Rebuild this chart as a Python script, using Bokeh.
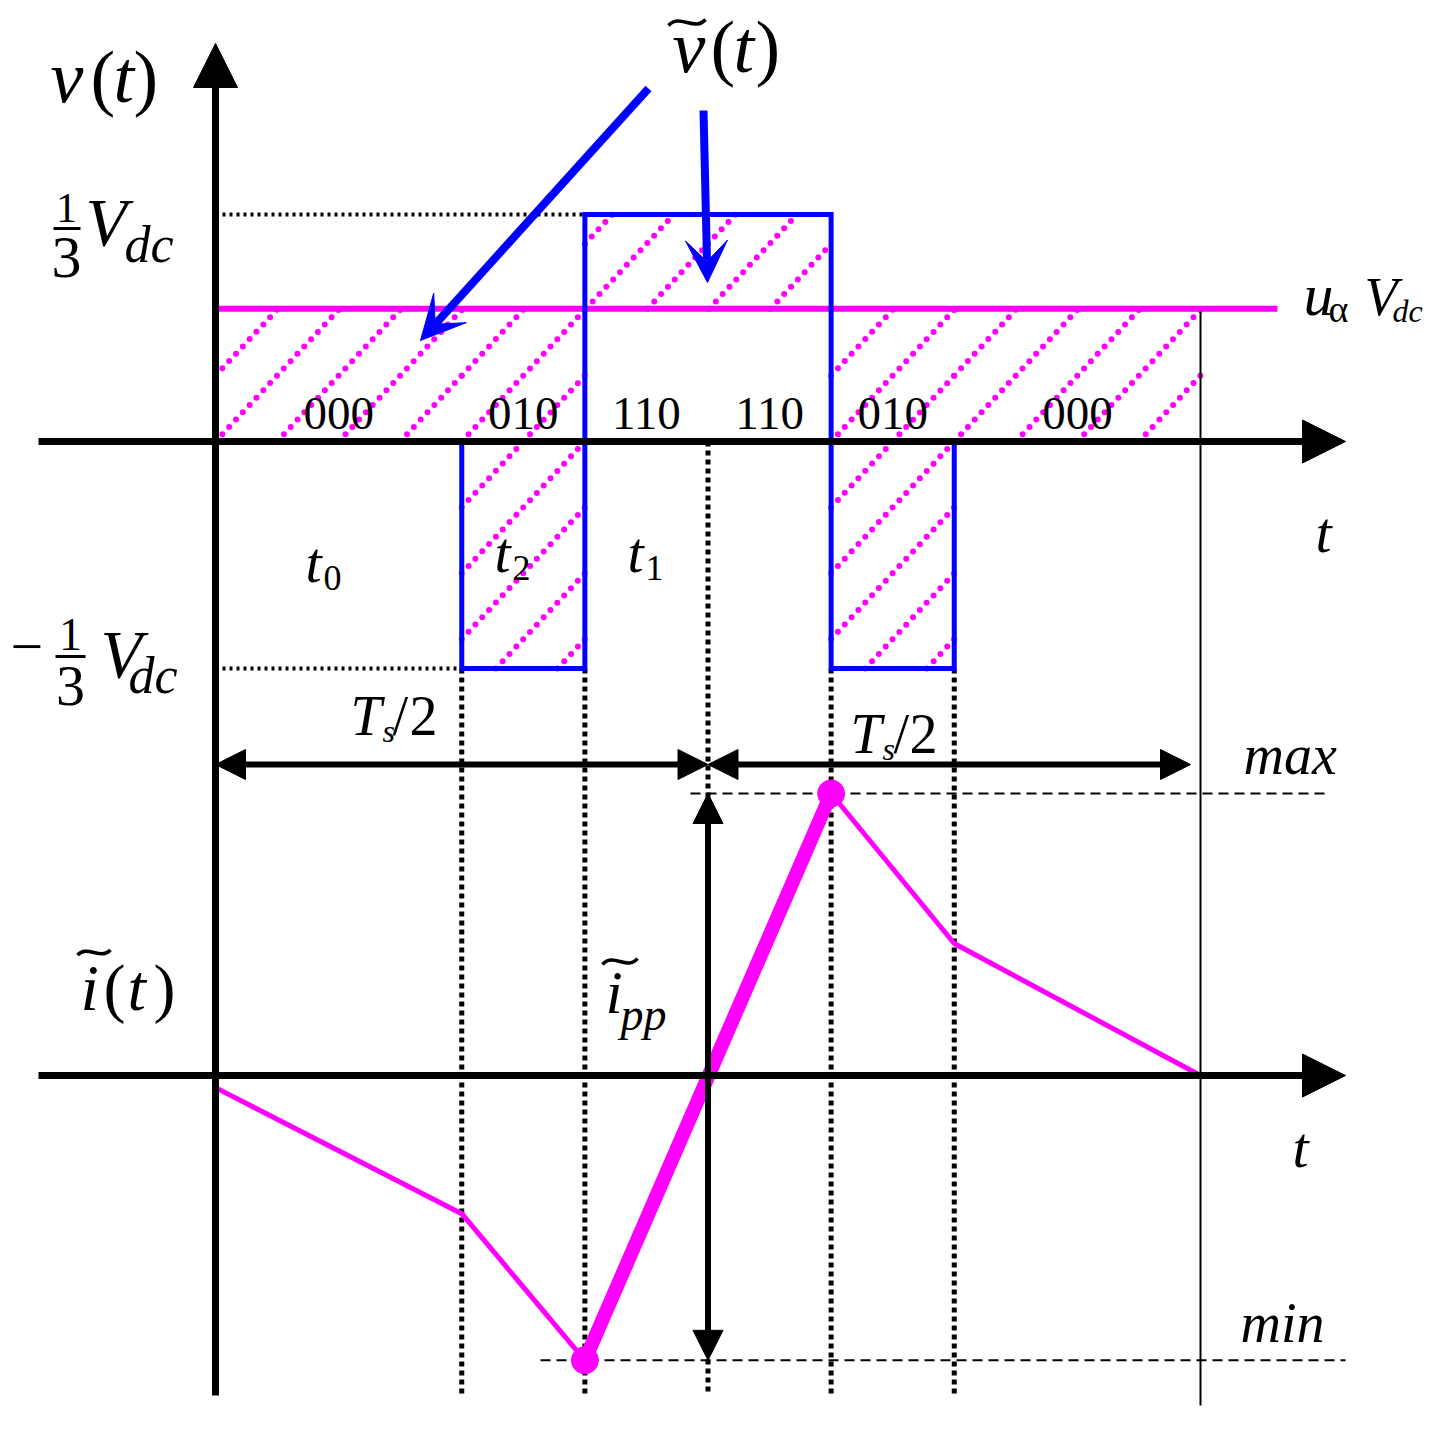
import numpy as np
from bokeh.plotting import figure
from bokeh.models import Range1d, Label, Arrow, NormalHead, VeeHead
from bokeh.core.properties import value
from bokeh.embed import file_html
from bokeh.resources import INLINE

# ---------------- data ----------------
t_switch = [0.0, 0.25, 0.375, 0.5, 0.625, 0.75, 1.0]      # switching instants, units of Ts
vectors = ["000", "010", "110", "110", "010", "000"]       # active switching vector per interval
v_level = [0.0, -1/3, 1/3, 1/3, -1/3, 0.0]                 # v(t) / Vdc per interval
u_alpha = 0.195                                            # reference u_alpha (per Vdc)
t_current = [0.0, 0.25, 0.375, 0.625, 0.75, 1.0]           # ripple-current corner instants
i_current = [-0.043, -0.49, -1.01, 1.0, 0.468, 0.0]        # ripple current (normalised)
i_max, i_min = 1.0, -1.01

# ---------------- layout ----------------
W, H = 1427, 1413
PX_T0, PX_PER_TS = 215, 985
PY_V0, PX_PER_V = 441, 681
PY_I0, PX_PER_I = 1075, 282
FONT = "Liberation Serif"
BLUE, MAG = "#0000FF", "#FF00FF"
LAB_SHIFT = 0.35     # baseline correction (fraction of font size)
TXT_SHIFT = 0.30


def X(px):
    return (px - PX_T0) / PX_PER_TS


def YV(py):
    return (PY_V0 - py) / PX_PER_V


def YI(py):
    return (PY_I0 - py) / PX_PER_I


p = figure(width=W, height=H, output_backend="svg", toolbar_location=None,
           x_range=Range1d(X(0), X(W)), y_range=Range1d(YV(H), YV(0)),
           x_axis_type=None, y_axis_type=None, min_border=0)
p.extra_y_ranges = {"i": Range1d(YI(H), YI(0))}
p.outline_line_color = None
p.background_fill_color = "white"
p.border_fill_color = "white"


def lab(text, px, py, size, italic=True, align="left"):
    base = py - LAB_SHIFT * size
    p.add_layout(Label(x=px, y=H - base, x_units="screen", y_units="screen",
                       text=text, text_font=FONT, text_font_size=f"{size}px",
                       text_font_style="italic" if italic else "normal",
                       text_align=align, text_baseline="alphabetic", text_color="black"))


def tilde(x0, x1, ymid, amp):
    """Wide accent tilde drawn as a cubic Bezier (layout pixels)."""
    w = x1 - x0
    p.bezier(x0=[X(x0)], y0=[YV(ymid + amp)], x1=[X(x1)], y1=[YV(ymid - amp)],
             cx0=[X(x0 + 0.3 * w)], cy0=[YV(ymid - 3.2 * amp)],
             cx1=[X(x0 + 0.7 * w)], cy1=[YV(ymid + 3.2 * amp)],
             line_color="black", line_width=3.5)


# ---------------- hatch (dotted magenta diagonals between u_alpha and v(t)) ----------------
kx = W / (p.x_range.end - p.x_range.start)
ky = H / (p.y_range.end - p.y_range.start)
slope = 1.07 * kx / ky          # data slope of the hatch lines
gap = 1 / 16                    # spacing of hatch lines along v = 0
hx0, hy0, hx1, hy1 = [], [], [], []
for k in range(len(v_level)):
    ta, tb = t_switch[k], t_switch[k + 1]
    va, vb = min(v_level[k], u_alpha), max(v_level[k], u_alpha)
    for j in range(-40, 60):
        tk = j * gap
        lo = max(ta, tk + va / slope)
        hi = min(tb, tk + vb / slope)
        if hi > lo:
            hx0.append(lo); hy0.append(slope * (lo - tk))
            hx1.append(hi); hy1.append(slope * (hi - tk))
p.segment(hx0, hy0, hx1, hy1, line_color=MAG, line_width=6, line_dash="0 10", line_cap="round")

# ---------------- black dotted guides ----------------
p.line([X(222), t_switch[2]], [1/3, 1/3], line_color="black", line_width=4, line_dash="3 4")
p.line([X(222), t_switch[1]], [-1/3, -1/3], line_color="black", line_width=4, line_dash="3 4")
for k in range(1, 6):
    top = 0.0 if k == 3 else -1/3
    p.line([t_switch[k], t_switch[k]], [top, YV(1395)], line_color="black", line_width=5,
           line_dash="5 4")
p.line([t_switch[-1], t_switch[-1]], [u_alpha, YV(1405)], line_color="black", line_width=2)

# ---------------- axes ----------------
p.add_layout(Arrow(end=NormalHead(size=44, fill_color="black", line_color="black"),
                   x_start=0, y_start=YV(1395), x_end=0, y_end=YV(43),
                   line_color="black", line_width=7))
p.add_layout(Arrow(end=NormalHead(size=43, fill_color="black", line_color="black"),
                   x_start=X(38), y_start=0, x_end=X(1345), y_end=0,
                   line_color="black", line_width=7))
p.add_layout(Arrow(end=NormalHead(size=43, fill_color="black", line_color="black"),
                   x_start=X(38), y_start=0, x_end=X(1345), y_end=0, y_range_name="i",
                   line_color="black", line_width=7))

# ---------------- u_alpha reference ----------------
p.line([0, X(1277)], [u_alpha, u_alpha], line_color=MAG, line_width=6)

# ---------------- v(t) waveform ----------------
wx, wy = [], []
for k in range(len(v_level)):
    wx += [t_switch[k], t_switch[k + 1]]
    wy += [v_level[k], v_level[k]]
for k in range(len(v_level)):
    if v_level[k] > 0:
        p.line([t_switch[k], t_switch[k + 1]], [0, 0], line_color=BLUE, line_width=5)
p.line(wx, wy, line_color=BLUE, line_width=5, line_join="miter")

# ---------------- Ts/2 dimension arrows ----------------
for a, b in [(0.0, 0.5), (0.5, X(1190))]:
    p.add_layout(Arrow(start=NormalHead(size=30, fill_color="black", line_color="black"),
                       end=NormalHead(size=30, fill_color="black", line_color="black"),
                       x_start=a, y_start=YV(764), x_end=b, y_end=YV(764),
                       line_color="black", line_width=6))

# ---------------- current ----------------
p.line([X(690), X(1330)], [i_max, i_max], y_range_name="i", line_color="black",
       line_width=2, line_dash="10 6")
p.line([X(540), X(1345)], [i_min, i_min], y_range_name="i", line_color="black",
       line_width=2, line_dash="10 6")
p.add_layout(Arrow(start=NormalHead(size=30, fill_color="black", line_color="black"),
                   end=NormalHead(size=30, fill_color="black", line_color="black"),
                   x_start=0.5, y_start=i_min, x_end=0.5, y_end=i_max, y_range_name="i",
                   line_color="black", line_width=6))
p.line(t_current[:3], i_current[:3], y_range_name="i", line_color=MAG, line_width=5,
       line_join="round")
p.line(t_current[3:], i_current[3:], y_range_name="i", line_color=MAG, line_width=5,
       line_join="round")
p.line(t_current[2:4], i_current[2:4], y_range_name="i", line_color=MAG, line_width=14,
       line_cap="round")
p.scatter([t_current[2], t_current[3]], [i_current[2], i_current[3]], y_range_name="i",
          size=27, fill_color=MAG, line_color=MAG)

# ---------------- blue pointer arrows ----------------
p.add_layout(Arrow(end=VeeHead(size=44, fill_color=BLUE, line_color=BLUE),
                   x_start=X(648), y_start=YV(88), x_end=X(420), y_end=YV(340),
                   line_color=BLUE, line_width=8))
p.add_layout(Arrow(end=VeeHead(size=42, fill_color=BLUE, line_color=BLUE),
                   x_start=X(703), y_start=YV(110), x_end=X(707), y_end=YV(282),
                   line_color=BLUE, line_width=8))

# ---------------- switching vector labels ----------------
centers = [(t_switch[k] + t_switch[k + 1]) / 2 for k in range(len(vectors))]
p.text(centers, [YV(427 - TXT_SHIFT * 47)] * len(vectors), text=vectors, text_font=value(FONT),
       text_font_size=value("47px"), text_align="center", text_baseline="alphabetic",
       text_color="black")

# ---------------- text labels ----------------
# v(t)
lab("v", 50, 102, 74); lab("(", 90, 102, 74, False); lab("t", 113, 102, 74); lab(")", 133, 102, 74, False)
# v~(t)
tilde(668, 705, 22, 3)
lab("v", 672, 72, 74); lab("(", 710, 72, 74, False); lab("t", 733, 72, 74); lab(")", 755, 72, 74, False)
# i~(t)
tilde(77, 110, 952, 2.5)
lab("i", 80, 1010, 66); lab("(", 103, 1010, 66, False); lab("t", 127, 1010, 66); lab(")", 153, 1010, 66, False)
# i~pp
tilde(602, 637, 961, 3)
lab("i", 605, 1013, 62); lab("pp", 620, 1030, 46)
# 1/3 Vdc
lab("1", 66, 222, 42, False, "center"); lab("3", 66, 278, 60, False, "center")
p.line([X(53), X(80)], [YV(228), YV(228)], line_color="black", line_width=3)
lab("V", 85, 245, 68); lab("dc", 124, 262, 52)
# -1/3 Vdc
lab("\u2212", 10, 667, 58, False)
lab("1", 70, 650, 46, False, "center"); lab("3", 70, 706, 58, False, "center")
p.line([X(55), X(85)], [YV(656), YV(656)], line_color="black", line_width=3)
lab("V", 100, 677, 68); lab("dc", 128, 693, 52)
# u_alpha Vdc
lab("u", 1303, 315, 60); lab("\u03b1", 1328, 322, 38, False); lab("V", 1364, 315, 54); lab("dc", 1392, 322, 32)
# time labels
lab("t", 1315, 552, 58); lab("t", 1292, 1167, 58)
lab("t", 305, 582, 58); lab("0", 323, 590, 36, False)
lab("t", 494, 572, 58); lab("2", 512, 580, 36, False)
lab("t", 627, 572, 58); lab("1", 645, 580, 36, False)
# Ts/2
lab("T", 350, 735, 56); lab("s", 382, 742, 32); lab("/", 392, 735, 56, False); lab("2", 409, 735, 56, False)
lab("T", 850, 753, 56); lab("s", 882, 760, 32); lab("/", 893, 753, 56, False); lab("2", 909, 753, 56, False)
# max / min
lab("max", 1243, 774, 56); lab("min", 1240, 1342, 56)

open("out.html", "w").write(file_html(p, INLINE, title="SVPWM ripple"))
